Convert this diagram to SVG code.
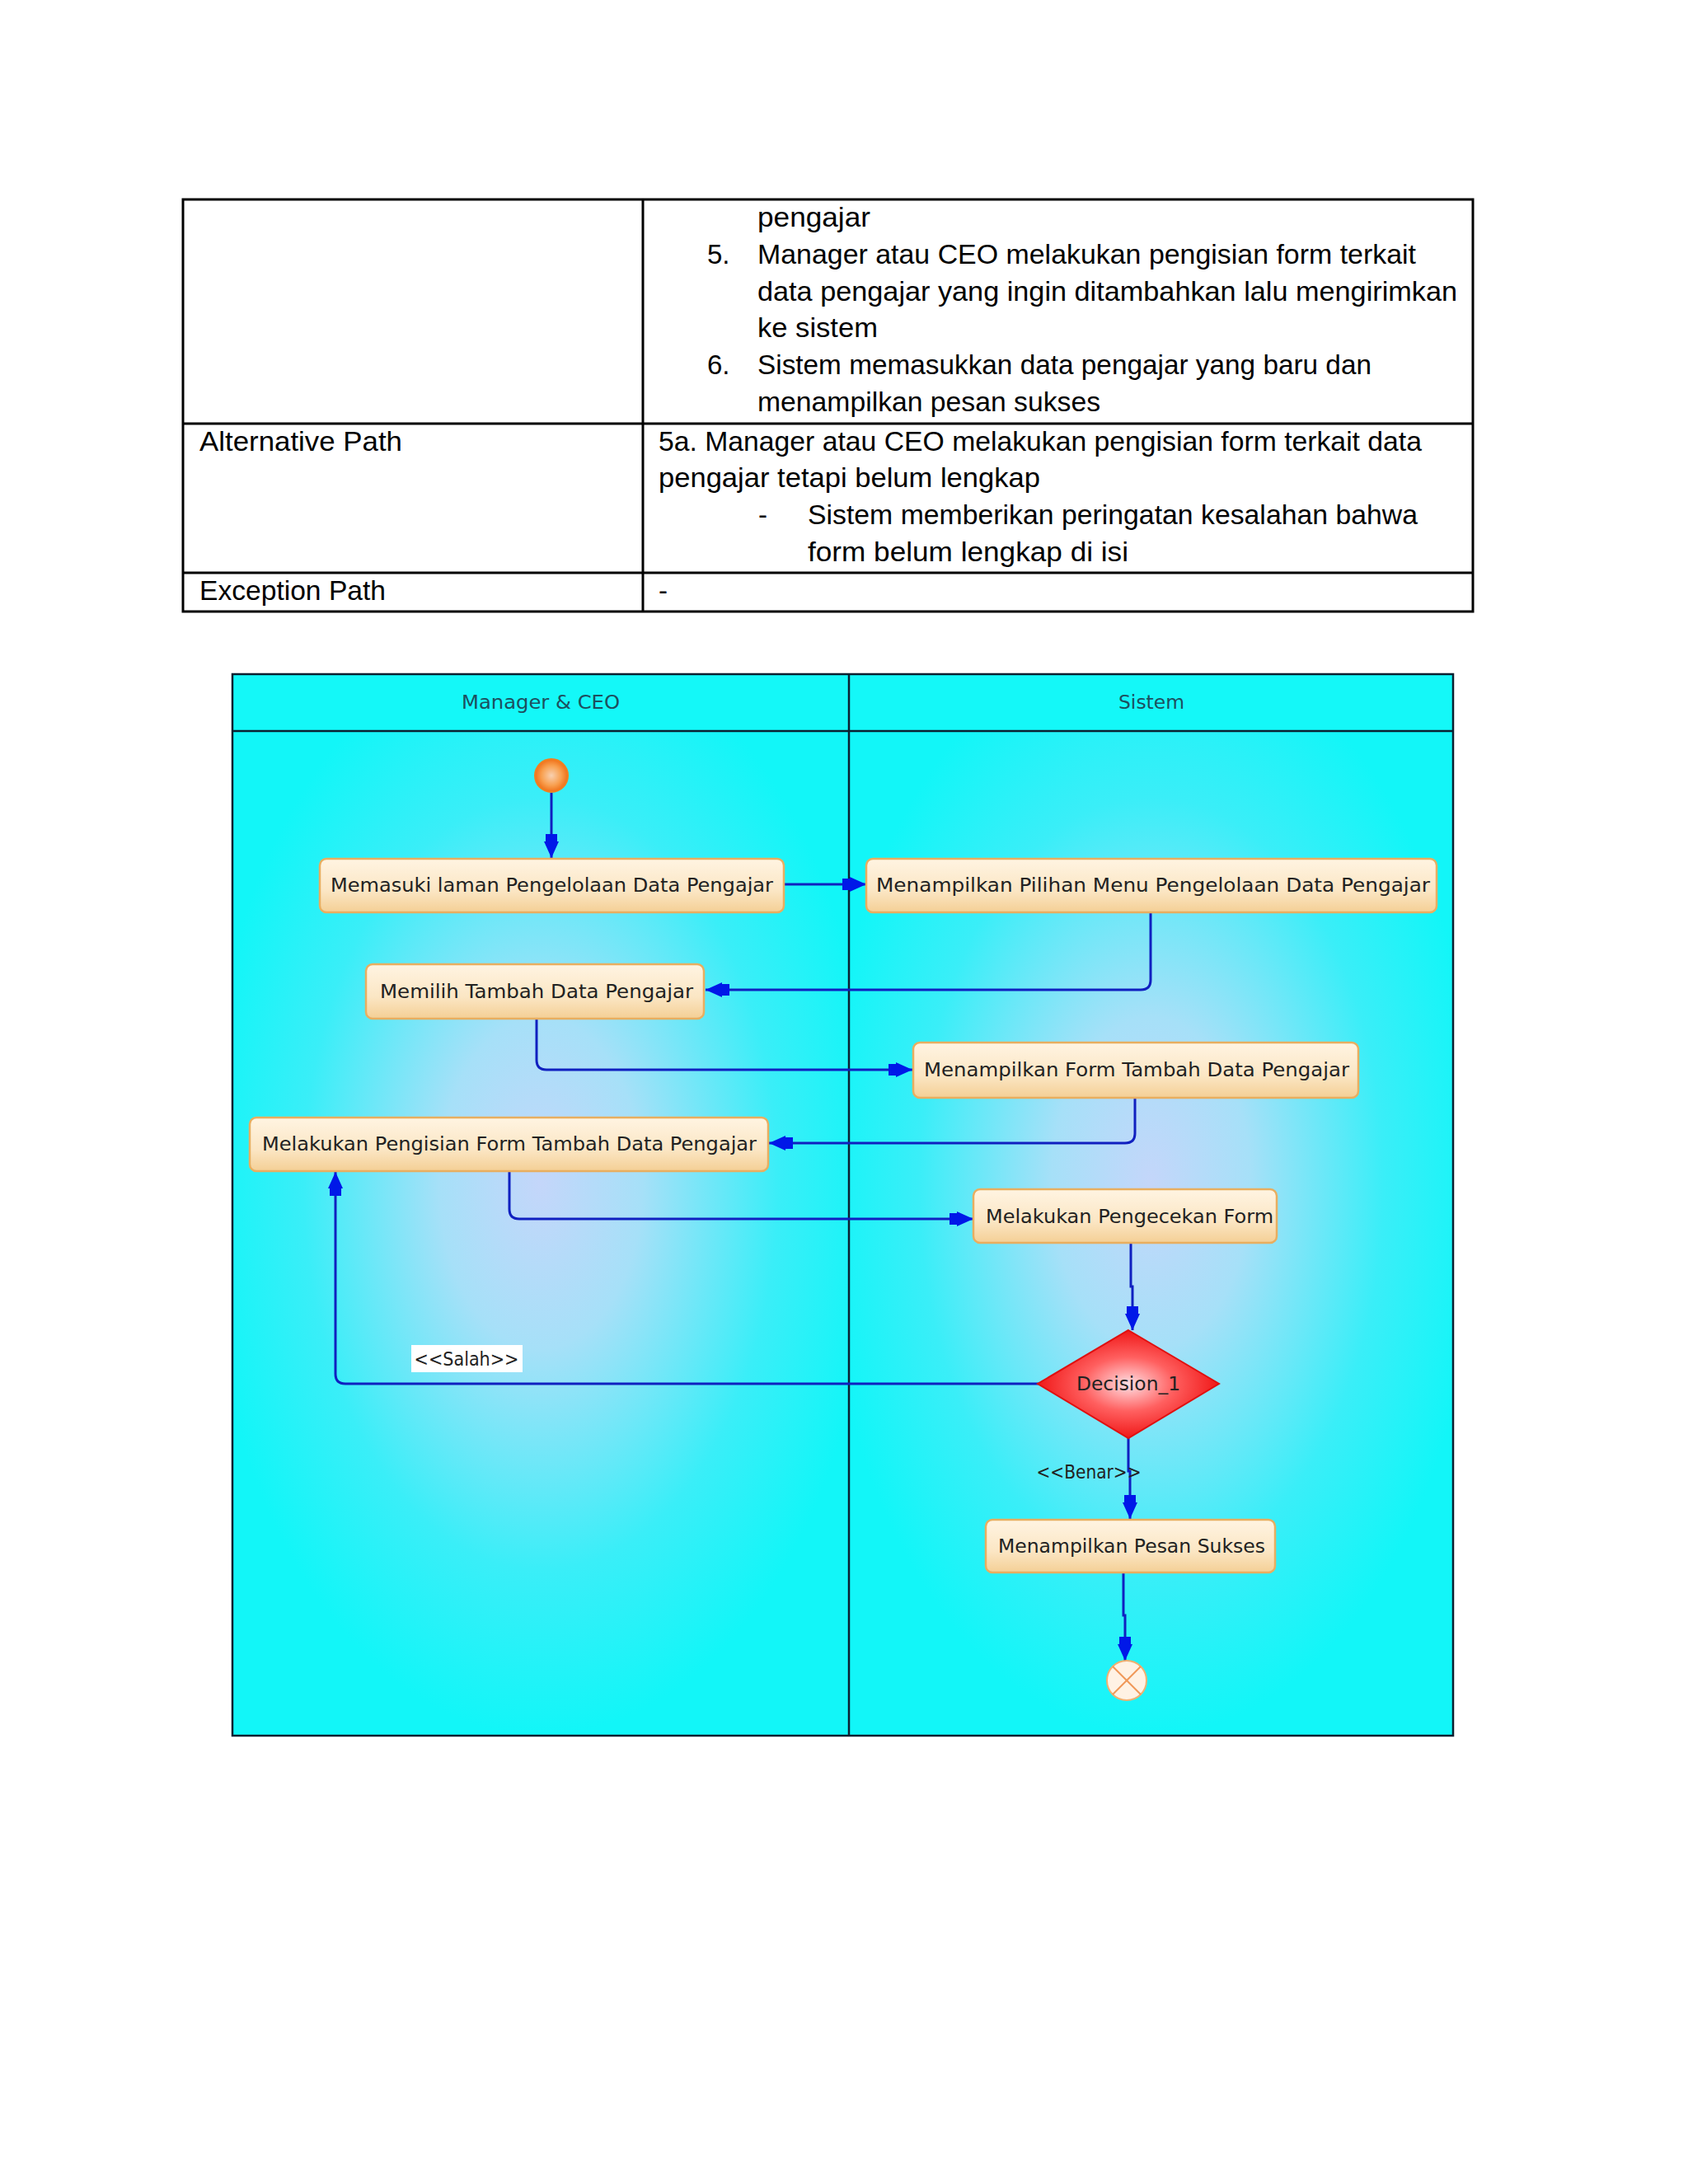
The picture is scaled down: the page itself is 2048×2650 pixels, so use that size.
<svg xmlns="http://www.w3.org/2000/svg" width="2048" height="2650" viewBox="0 0 2048 2650">
<style>
.tt{font-family:"Liberation Sans",Arial,sans-serif;font-size:33px;fill:#000}
.nt{font-family:"DejaVu Sans","Liberation Sans",sans-serif;font-size:23px;fill:#222}
.hd{font-family:"DejaVu Sans","Liberation Sans",sans-serif;font-size:23px;fill:#1d4f5e}
.box{fill:url(#boxg);stroke:#e8ae60;stroke-width:2.5}
.con{fill:none;stroke:#1020c0;stroke-width:3}
.tl{stroke:#000;stroke-width:3;fill:none}
</style>
<defs>
<linearGradient id="boxg" x1="0" y1="0" x2="0" y2="1">
<stop offset="0" stop-color="#fff4e2"/>
<stop offset="0.6" stop-color="#fbe6c4"/>
<stop offset="1" stop-color="#f4cf95"/>
</linearGradient>
<radialGradient id="laneg" cx="0.5" cy="0.45" r="0.55">
<stop offset="0" stop-color="#c4d6fa"/>
<stop offset="0.3" stop-color="#a6e0f8"/>
<stop offset="0.7" stop-color="#3aeef8"/>
<stop offset="1" stop-color="#12f6f8"/>
</radialGradient>
<radialGradient id="decg" cx="0.5" cy="0.5" r="0.5">
<stop offset="0" stop-color="#ffe0e4"/>
<stop offset="0.5" stop-color="#ff6060"/>
<stop offset="1" stop-color="#f01818"/>
</radialGradient>
<radialGradient id="startg" cx="0.5" cy="0.5" r="0.5">
<stop offset="0" stop-color="#f8d0b0"/>
<stop offset="0.6" stop-color="#f8a050"/>
<stop offset="1" stop-color="#f07018"/>
</radialGradient>
<marker id="arr" markerUnits="userSpaceOnUse" markerWidth="30" markerHeight="20" refX="29" refY="10" orient="auto">
<path d="M0,3 L9,3 L9,1 L29,10 L9,19 L9,17 L0,17 z" fill="#0018e8"/>
</marker>
</defs>
<rect width="2048" height="2650" fill="#fff"/>

<g id="table">
<rect x="222" y="242" width="1565" height="500" class="tl"/>
<line x1="780" y1="242" x2="780" y2="742" class="tl"/>
<line x1="222" y1="514" x2="1787" y2="514" class="tl"/>
<line x1="222" y1="695" x2="1787" y2="695" class="tl"/>
<text class="tt" x="919" y="275" textLength="137" lengthAdjust="spacingAndGlyphs">pengajar</text>
<text class="tt" x="858" y="320">5.</text>
<text class="tt" x="919" y="320" textLength="799" lengthAdjust="spacingAndGlyphs">Manager atau CEO melakukan pengisian form terkait</text>
<text class="tt" x="919" y="365" textLength="849" lengthAdjust="spacingAndGlyphs">data pengajar yang ingin ditambahkan lalu mengirimkan</text>
<text class="tt" x="919" y="409" textLength="146" lengthAdjust="spacingAndGlyphs">ke sistem</text>
<text class="tt" x="858" y="454">6.</text>
<text class="tt" x="919" y="454" textLength="745" lengthAdjust="spacingAndGlyphs">Sistem memasukkan data pengajar yang baru dan</text>
<text class="tt" x="919" y="499" textLength="416" lengthAdjust="spacingAndGlyphs">menampilkan pesan sukses</text>
<text class="tt" x="242" y="547" textLength="246" lengthAdjust="spacingAndGlyphs">Alternative Path</text>
<text class="tt" x="799" y="547" textLength="926" lengthAdjust="spacingAndGlyphs">5a. Manager atau CEO melakukan pengisian form terkait data</text>
<text class="tt" x="799" y="591" textLength="463" lengthAdjust="spacingAndGlyphs">pengajar tetapi belum lengkap</text>
<text class="tt" x="920" y="636">-</text>
<text class="tt" x="980" y="636" textLength="740" lengthAdjust="spacingAndGlyphs">Sistem memberikan peringatan kesalahan bahwa</text>
<text class="tt" x="980" y="681" textLength="389" lengthAdjust="spacingAndGlyphs">form belum lengkap  di isi</text>
<text class="tt" x="242" y="728" textLength="226" lengthAdjust="spacingAndGlyphs">Exception Path</text>
<text class="tt" x="799" y="728">-</text>
</g>

<g id="swimlanes">
<rect x="282" y="887" width="748" height="1219" fill="url(#laneg)"/>
<rect x="1030" y="887" width="733" height="1219" fill="url(#laneg)"/>
<rect x="282" y="818" width="1481" height="69" fill="#14f8f8"/>
<rect x="282" y="818" width="1481" height="1288" fill="none" stroke="#0a2030" stroke-width="2.5"/>
<line x1="282" y1="887" x2="1763" y2="887" stroke="#0a2030" stroke-width="2.5"/>
<line x1="1030" y1="818" x2="1030" y2="2106" stroke="#0a2030" stroke-width="2.5"/>
<text class="hd" x="656" y="860" text-anchor="middle" textLength="192" lengthAdjust="spacingAndGlyphs">Manager &amp; CEO</text>
<text class="hd" x="1397" y="860" text-anchor="middle" textLength="80" lengthAdjust="spacingAndGlyphs">Sistem</text>
</g>

<g id="connectors">
<path class="con" marker-end="url(#arr)" d="M669,962 V1041"/>
<path class="con" marker-end="url(#arr)" d="M952,1073 H1051"/>
<path class="con" marker-end="url(#arr)" d="M1396,1107 V1189 Q1396,1201 1384,1201 H856"/>
<path class="con" marker-end="url(#arr)" d="M651,1236 V1286 Q651,1298 663,1298 H1107"/>
<path class="con" marker-end="url(#arr)" d="M1377,1332 V1375 Q1377,1387 1365,1387 H933"/>
<path class="con" marker-end="url(#arr)" d="M618,1421 V1467 Q618,1479 630,1479 H1181"/>
<path class="con" marker-end="url(#arr)" d="M1372,1508 V1561 H1374 V1614"/>
<path class="con" marker-end="url(#arr)" d="M1260,1679 H419 Q407,1679 407,1667 V1422"/>
<path class="con" marker-end="url(#arr)" d="M1369,1745 V1785 H1371 V1843"/>
<path class="con" marker-end="url(#arr)" d="M1363,1908 V1960 H1365 V2015"/>
<rect x="499" y="1632" width="135" height="33" fill="#fff"/>
<text class="nt" x="566" y="1657" text-anchor="middle" textLength="127" lengthAdjust="spacingAndGlyphs">&lt;&lt;Salah&gt;&gt;</text>
<text class="nt" x="1321" y="1794" text-anchor="middle" textLength="127" lengthAdjust="spacingAndGlyphs" fill="#1a3040">&lt;&lt;Benar&gt;&gt;</text>
</g>

<g id="start">
<circle cx="669" cy="941" r="20" fill="url(#startg)" stroke="#f08020" stroke-width="2"/>
</g>

<g id="n1">
<rect class="box" x="388" y="1042" width="563" height="65" rx="8"/>
<text class="nt" x="401" y="1082" textLength="537" lengthAdjust="spacingAndGlyphs">Memasuki laman Pengelolaan Data Pengajar</text>
</g>
<g id="n2">
<rect class="box" x="1051" y="1042" width="692" height="65" rx="8"/>
<text class="nt" x="1063" y="1082" textLength="672" lengthAdjust="spacingAndGlyphs">Menampilkan Pilihan Menu Pengelolaan Data Pengajar</text>
</g>
<g id="n3">
<rect class="box" x="444" y="1170" width="410" height="66" rx="8"/>
<text class="nt" x="461" y="1211" textLength="380" lengthAdjust="spacingAndGlyphs">Memilih Tambah Data Pengajar</text>
</g>
<g id="n4">
<rect class="box" x="1108" y="1265" width="540" height="67" rx="8"/>
<text class="nt" x="1121" y="1306" textLength="516" lengthAdjust="spacingAndGlyphs">Menampilkan Form Tambah Data Pengajar</text>
</g>
<g id="n5">
<rect class="box" x="303" y="1356" width="629" height="65" rx="8"/>
<text class="nt" x="318" y="1396" textLength="600" lengthAdjust="spacingAndGlyphs">Melakukan Pengisian Form Tambah Data Pengajar</text>
</g>
<g id="n6">
<rect class="box" x="1181" y="1443" width="368" height="65" rx="8"/>
<text class="nt" x="1196" y="1484" textLength="349" lengthAdjust="spacingAndGlyphs">Melakukan Pengecekan Form</text>
</g>
<g id="decision">
<polygon points="1369,1614 1479,1679 1369,1745 1259,1679" fill="url(#decg)" stroke="#e01010" stroke-width="2"/>
<text class="nt" x="1369" y="1687" text-anchor="middle" textLength="126" lengthAdjust="spacingAndGlyphs" fill="#401010">Decision_1</text>
</g>
<g id="n7">
<rect class="box" x="1196" y="1844" width="351" height="64" rx="8"/>
<text class="nt" x="1211" y="1884" textLength="324" lengthAdjust="spacingAndGlyphs">Menampilkan Pesan Sukses</text>
</g>
<g id="end">
<circle cx="1367" cy="2039" r="24" fill="#fff2e4" stroke="#f0b070" stroke-width="2"/>
<line x1="1350" y1="2022" x2="1384" y2="2056" stroke="#f09858" stroke-width="2"/>
<line x1="1384" y1="2022" x2="1350" y2="2056" stroke="#f09858" stroke-width="2"/>
</g>
</svg>
